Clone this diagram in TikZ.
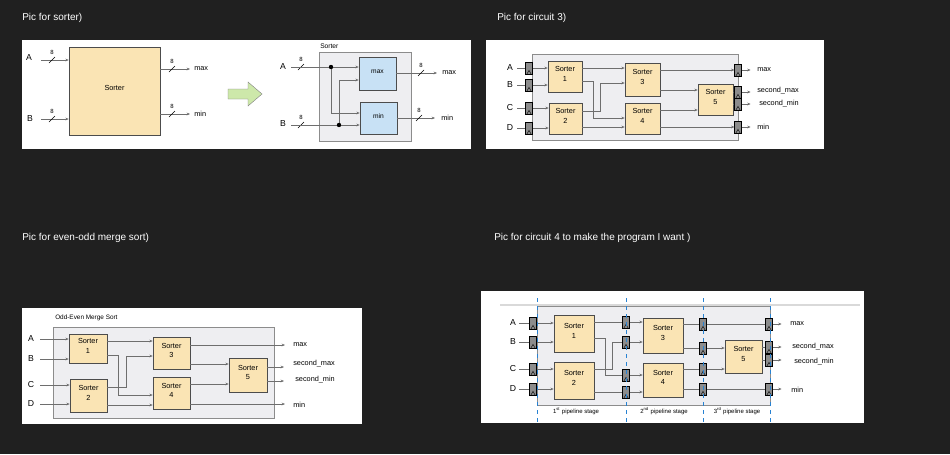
\documentclass[tikz,border=0pt]{standalone}
\usepackage{fontspec}
\setmainfont{Liberation Sans}
\usetikzlibrary{arrows.meta,fit,calc}
\definecolor{bgdark}{RGB}{32,32,32}
\definecolor{sortyel}{RGB}{250,228,180}
\definecolor{sortblue}{RGB}{200,225,245}
\definecolor{sortgray}{RGB}{238,238,241}
\definecolor{arrgreen}{RGB}{205,232,170}
\definecolor{stageblue}{RGB}{40,130,210}
\definecolor{wiregray}{RGB}{110,110,110}

\newcommand\regff[3]{%
  \node[reg] (#1) at (#2,#3) {};
  \draw[black, line width=0.3pt] ($(#1.south)+(-2.2,0)$) -- ($(#1.south)+(0,-4)$) -- ($(#1.south)+(2.2,0)$);}
\newcommand\busmark[2]{%
  \draw[black, line width=0.4pt] (#1-3,#2+3) -- (#1+3,#2-3);
  \node[tiny] at (#1,#2-8) {8};}

\begin{document}
\begin{tikzpicture}[x=0.75pt, y=-0.75pt,
    panel/.style={fill=white, draw=none},
    title/.style={text=white, font=\fontsize{7.5}{9}\selectfont, anchor=west, inner sep=0},
    tiny/.style={font=\fontsize{4.5}{5}\selectfont, inner sep=0},
    lbl/.style={font=\fontsize{5.5}{6}\selectfont, inner sep=0, anchor=west},
    inl/.style={font=\fontsize{6.5}{7}\selectfont, inner sep=0},
    sorter/.style={draw=black!70, fill=sortyel, line width=0.4pt, inner sep=0,
      font=\fontsize{5.5}{7}\selectfont, align=center},
    sub/.style={draw=black!70, fill=sortblue, line width=0.4pt, inner sep=0,
      font=\fontsize{5}{6}\selectfont},
    frame/.style={draw=black!45, fill=sortgray, line width=0.4pt, inner sep=0},
    reg/.style={draw=black, fill=black!45, minimum width=5pt, minimum height=9pt,
      inner sep=0, line width=0.4pt},
    wire/.style={-{Stealth[length=2.5pt,width=2pt]}, draw=wiregray, line width=0.4pt},
    line/.style={draw=wiregray, line width=0.4pt},
    stage/.style={draw=stageblue, dashed, line width=0.6pt},
  ]
  \fill[bgdark] (0,0) rectangle (950,454);
  \useasboundingbox (0,0) rectangle (950,454);

  % ---------------- titles
  \node[title] (t1) at (22,18) {Pic for sorter)};
  \node[title] (t2) at (497,18) {Pic for circuit 3)};
  \node[title] (t3) at (22,238) {Pic for even-odd merge sort)};
  \node[title] (t4) at (494,238) {Pic for circuit 4 to make the program I want )};

  % ---------------- panel 1: sorter
  \fill[panel] (22,40) rectangle (471,149);
  \node[sorter, fit={(69,47) (160,135)}] (big) {Sorter};
  \node[inl] (a1) at (29,58) {A};
  \node[inl] (b1) at (30,119) {B};
  \draw[wire] (41,60) -- (big.west |- 0,60);
  \draw[wire] (41,119) -- (big.west |- 0,119);
  \busmark{52}{60} \busmark{52}{119}
  \coordinate (mx1) at (190,69);
  \coordinate (mn1) at (190,114);
  \draw[wire] (big.east |- mx1) -- (mx1);
  \draw[wire] (big.east |- mn1) -- (mn1);
  \busmark{172}{69} \busmark{172}{114}
  \node[lbl] at (194,69) {max};
  \node[lbl] at (194,114) {min};
  \draw[draw=black!50, fill=arrgreen, line width=0.3pt]
    (228,89) -- (248,89) -- (248,82) -- (262,94) -- (248,106) -- (248,99) -- (228,99) -- cycle;
  \node[frame, fit={(319,52) (411,141)}] (sbox) {};
  \node[tiny, font=\fontsize{5}{6}\selectfont, anchor=west] at (320,46) {Sorter};
  \node[sub, fit={(359,57) (396,90)}] (maxb) {max};
  \node[sub, fit={(360,102) (397,134)}] (minb) {min};
  \node[inl] (a2) at (283,67) {A};
  \node[inl] (b2) at (283,124) {B};
  \busmark{301}{67} \busmark{301}{125}
  \coordinate (da) at (331,67);
  \coordinate (db) at (339,125);
  \draw[wire] (291,67) -- (maxb.west |- da);
  \draw[wire] (291,125) -- (minb.west |- db);
  \draw[wire] (da) -- (331,113) -- (minb.west |- 0,113);
  \draw[wire] (db) -- (339,80) -- (maxb.west |- 0,80);
  \fill (da) circle (2.2);
  \fill (db) circle (2.2);
  \draw[wire] (maxb.east |- 0,73) -- (437,73);
  \draw[wire] (minb.east |- 0,118) -- (435,118);
  \busmark{421}{73} \busmark{419}{118}
  \node[lbl] at (442,73) {max};
  \node[lbl] at (441,118) {min};

  % ---------------- panel 2: circuit 3
  \fill[panel] (486,40) rectangle (824,149);
  \node[frame, fit={(532,54) (738,140)}] (f2) {};
  \foreach \n/\y in {A/68,B/85,C/108,D/128}{
    \node[inl] (in2\n) at (510,\y) {\n};
    \draw[line] (517,\y) -- (527,\y);
    \regff{r2\n}{529}{\y}
  }
  \node[sorter, fit={(548,61) (582,92)}] (s21) {Sorter\\1};
  \node[sorter, fit={(549,103) (582,134)}] (s22) {Sorter\\2};
  \node[sorter, fit={(625,63) (660,96)}] (s23) {Sorter\\3};
  \node[sorter, fit={(625,103) (660,134)}] (s24) {Sorter\\4};
  \node[sorter, fit={(698,84) (733,115)}] (s25) {Sorter\\5};
  \draw[wire] (r2A) -- (s21.west |- r2A);
  \draw[wire] (r2B) -- (s21.west |- r2B);
  \draw[wire] (r2C) -- (s22.west |- r2C);
  \draw[wire] (r2D) -- (s22.west |- r2D);
  \draw[wire] (s21.east |- 0,68) -- (s23.west |- 0,68);
  \draw[wire] (s21.east |- 0,81) -- (593,81) -- (593,118) -- (s24.west |- 0,118);
  \draw[wire] (s22.east |- 0,111) -- (600,111) -- (600,83) -- (s23.west |- 0,83);
  \draw[wire] (s22.east |- 0,127) -- (s24.west |- 0,127);
  \foreach \n/\y in {a/70,b/92,c/104,d/127}{\regff{o2\n}{738}{\y}}
  \draw[wire] (s23.east |- o2a) -- (o2a);
  \draw[wire] (s23.east |- 0,90) -- (s25.west |- 0,90);
  \draw[wire] (s24.east |- 0,110) -- (s25.west |- 0,110);
  \draw[wire] (s24.east |- o2d) -- (o2d);
  \draw[line] (s25.east |- o2b) -- (o2b);
  \draw[line] (s25.east |- o2c) -- (o2c);
  \foreach \n in {a,b,c,d}{\draw[wire] (o2\n.east) -- ++(9,0) coordinate (e2\n);}
  \node[lbl] at (757,70) {max};
  \node[lbl] at (757,91) {second\_max};
  \node[lbl] at (759,104) {second\_min};
  \node[lbl] at (757,127) {min};

  % ---------------- panel 3: odd-even merge sort
  \fill[panel] (22,308) rectangle (362,424);
  \node[frame, fit={(53,327) (274,418)}] (f3) {};
  \node[lbl, font=\fontsize{4.8}{5.5}\selectfont] at (55,318) {Odd-Even Merge Sort};
  \node[sorter, fit={(69,334) (107,363)}] (s31) {Sorter\\1};
  \node[sorter, fit={(70,379) (107,412)}] (s32) {Sorter\\2};
  \node[sorter, fit={(153,337) (190,369)}] (s33) {Sorter\\3};
  \node[sorter, fit={(153,377) (190,409)}] (s34) {Sorter\\4};
  \node[sorter, fit={(229,358) (267,392)}] (s35) {Sorter\\5};
  \foreach \n/\y/\s in {A/339/s31,B/359/s31,C/385/s32,D/404/s32}{
    \node[inl] (in3\n) at (31,\y) {\n};
    \draw[wire] (40,\y) -- (\s.west |- 0,\y);
  }
  \draw[wire] (s31.east |- 0,341) -- (s33.west |- 0,341);
  \draw[wire] (s31.east |- 0,355) -- (118,355) -- (118,395) -- (s34.west |- 0,395);
  \draw[wire] (s32.east |- 0,387) -- (126,387) -- (126,356) -- (s33.west |- 0,356);
  \draw[wire] (s32.east |- 0,405) -- (s34.west |- 0,405);
  \draw[wire] (s33.east |- 0,345) -- (285,345);
  \draw[wire] (s33.east |- 0,364) -- (s35.west |- 0,364);
  \draw[wire] (s34.east |- 0,384) -- (s35.west |- 0,384);
  \draw[wire] (s34.east |- 0,404) -- (285,404);
  \draw[wire] (s35.east |- 0,367) -- (284,367);
  \draw[wire] (s35.east |- 0,381) -- (284,381);
  \node[lbl] at (293,345) {max};
  \node[lbl] at (293,364) {second\_max};
  \node[lbl] at (295,380) {second\_min};
  \node[lbl] at (293,405) {min};

  % ---------------- panel 4: circuit 4 (pipelined)
  \fill[panel] (481,291) rectangle (864,423);
  \draw[black!15, line width=0.8pt] (500,305) -- (860,305);
  \node[frame, fit={(537,306) (770,405)}] (f4) {};
  \node[sorter, fit={(554,315) (594,352)}] (s41) {Sorter\\1};
  \node[sorter, fit={(554,362) (594,399)}] (s42) {Sorter\\2};
  \node[sorter, fit={(643,318) (683,353)}] (s43) {Sorter\\3};
  \node[sorter, fit={(643,363) (683,397)}] (s44) {Sorter\\4};
  \node[sorter, fit={(725,340) (762,373)}] (s45) {Sorter\\5};
  \foreach \n/\y in {A/323,B/342,C/369,D/389}{
    \node[inl] (in4\n) at (513,\y) {\n};
    \draw[line] (519,\y) -- (530,\y);
    \regff{r4\n}{533}{\y}
  }
  \draw[wire] (r4A) -- (s41.west |- r4A);
  \draw[wire] (r4B) -- (s41.west |- r4B);
  \draw[wire] (r4C) -- (s42.west |- r4C);
  \draw[wire] (r4D) -- (s42.west |- r4D);
  \foreach \n/\y in {a/322,b/342,c/375,d/392}{\regff{q4\n}{626}{\y}}
  \draw[line] (s41.east |- q4a) -- (q4a);
  \draw[line] (s41.east |- 0,338) -- (605,338) -- (605,375) -- (q4c);
  \draw[line] (s42.east |- 0,369) -- (612,369) -- (612,342) -- (q4b);
  \draw[line] (s42.east |- q4d) -- (q4d);
  \draw[wire] (q4a) -- (s43.west |- q4a);
  \draw[wire] (q4b) -- (s43.west |- q4b);
  \draw[wire] (q4c) -- (s44.west |- q4c);
  \draw[wire] (q4d) -- (s44.west |- q4d);
  \foreach \n/\y in {a/324,b/348,c/369,d/389}{\regff{p4\n}{703}{\y}}
  \draw[line] (s43.east |- p4a) -- (p4a);
  \draw[line] (s43.east |- p4b) -- (p4b);
  \draw[line] (s44.east |- p4c) -- (p4c);
  \draw[line] (s44.east |- p4d) -- (p4d);
  \draw[wire] (p4b) -- (s45.west |- p4b);
  \draw[wire] (p4c) -- (s45.west |- p4c);
  \foreach \n/\y in {a/324,b/347,c/360,d/389}{\regff{o4\n}{769}{\y}}
  \draw[line] (p4a) -- (o4a);
  \draw[line] (p4d) -- (o4d);
  \draw[line] (s45.east |- o4b) -- (o4b);
  \draw[line] (s45.east |- o4c) -- (o4c);
  \foreach \n in {a,b,c,d}{\draw[wire] (o4\n.east) -- ++(9,0);}
  \node[lbl] at (790,324) {max};
  \node[lbl] at (792,347) {second\_max};
  \node[lbl] at (794,362) {second\_min};
  \node[lbl] at (791,390) {min};
  \foreach \x in {537,626,703,770}{\draw[stage] (\x,298) -- (\x,422);}
  \node[tiny] (st1) at (576,411) {1\textsuperscript{st} pipeline stage};
  \node[tiny] (st2) at (664,411) {2\textsuperscript{nd} pipeline stage};
  \node[tiny] (st3) at (737,411) {3\textsuperscript{rd} pipeline stage};
\end{tikzpicture}
\end{document}
